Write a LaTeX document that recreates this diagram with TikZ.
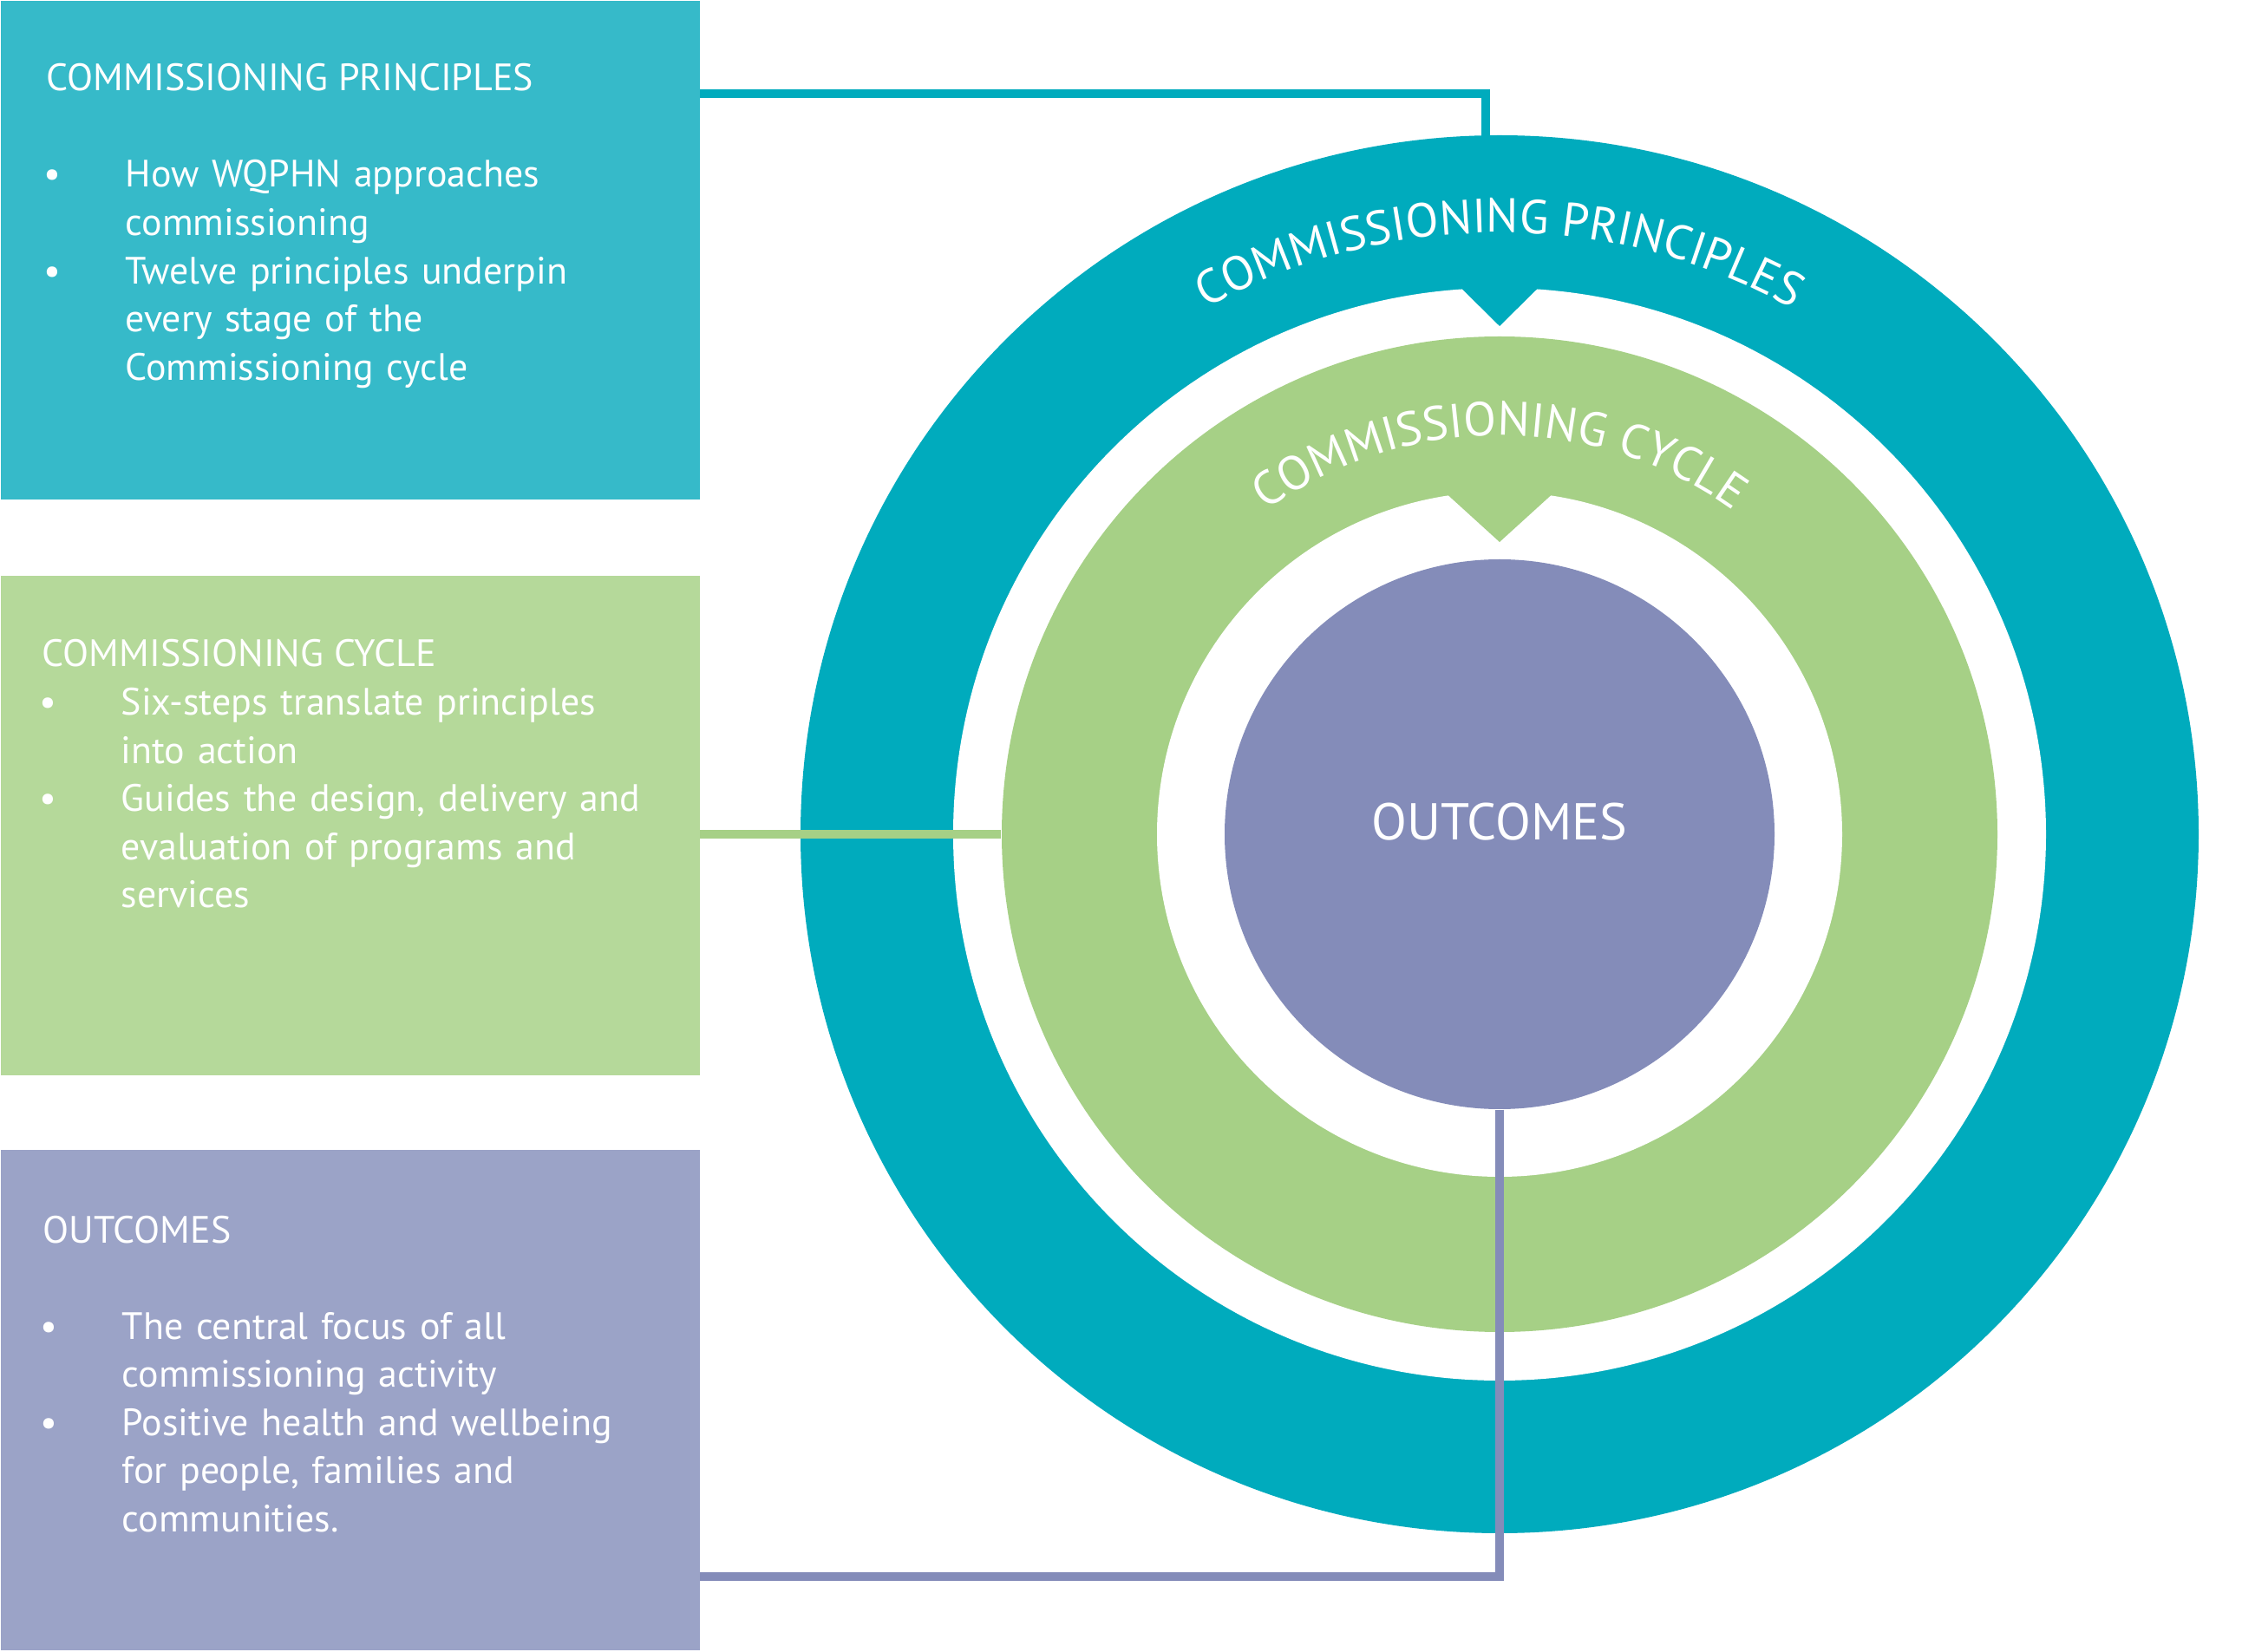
\documentclass[tikz,border=0pt]{standalone}
\usepackage{fontspec}
\setmainfont{PT Sans}
\usepackage{xcolor}
\usetikzlibrary{positioning,decorations.text}

\definecolor{ringteal}{HTML}{00ABBD}
\definecolor{boxteal}{HTML}{36BAC9}
\definecolor{ringgreen}{HTML}{A6D086}
\definecolor{boxgreen}{HTML}{B5D99A}
\definecolor{ringpurple}{HTML}{848CB9}
\definecolor{boxpurple}{HTML}{9BA3C7}

\newcommand{\boxfont}{\fontsize{12.5}{15.8}\selectfont}
\newcommand{\arcfont}{\fontsize{15.7}{18}\selectfont}
\newcommand{\hubfont}{\fontsize{17}{20}\selectfont}
\newcommand{\bitem}[1]{\noindent\hangindent=0.91cm\hangafter=1\makebox[0.91cm][l]{\hspace*{-0.03cm}\textbullet}#1\par}

\begin{document}
\begin{tikzpicture}[
    panel/.style={rectangle, inner sep=0pt, minimum width=8.06cm},
    boxtext/.style={text=white, inner sep=0pt, font=\boxfont},
    boxlist/.style={boxtext, text width=7.5cm},
    ring/.style={circle, inner sep=0pt},
    joinline/.style={line width=0.1cm}
]
\useasboundingbox (0,0) rectangle (26,19.04);

% left panels
\node[panel, fill=boxteal, minimum height=5.75cm, anchor=north west] (prinbox) at (0,19.04) {};
\node[panel, fill=boxgreen, minimum height=5.76cm, anchor=north west] (cycbox) at (0,12.41) {};
\node[panel, fill=boxpurple, minimum height=5.77cm, anchor=south west] (outbox) at (0,0) {};

\node[boxtext, anchor=base west] (prinhead) at (0.53,17.99) {COMMISSIONING PRINCIPLES};
\node[boxlist, anchor=base west] (prinlist) at ([yshift=-1.11cm]prinhead.base west) {\raggedright
    \bitem{How WQPHN approaches\newline commissioning}
    \bitem{Twelve principles underpin\newline every stage of the\newline Commissioning cycle}};

\node[boxtext, anchor=base west] (cychead) at (0.48,11.35) {COMMISSIONING CYCLE};
\node[boxlist, anchor=base west] (cyclist) at ([yshift=-0.555cm]cychead.base west) {\raggedright
    \bitem{Six-steps translate principles\newline into action}
    \bitem{Guides the design, delivery and\newline evaluation of programs and\newline services}};

\node[boxtext, anchor=base west] (outhead) at (0.49,4.71) {OUTCOMES};
\node[boxlist, anchor=base west] (outlist) at ([yshift=-1.11cm]outhead.base west) {\raggedright
    \bitem{The central focus of all\newline commissioning activity}
    \bitem{Positive health and wellbeing\newline for people, families and\newline communities.}};

% rings
\coordinate (hub) at (17.29,9.42);
\node[ring, fill=ringteal, minimum size=16.12cm] (prinring) at (hub) {};
\node[ring, fill=white, minimum size=12.60cm] (pringap) at (hub) {};
\fill[ringteal] ([shift={(-0.506,6.36)}]hub) -- ([shift={(0.506,6.36)}]hub) -- ([shift={(0,5.86)}]hub) -- cycle;
\node[ring, fill=ringgreen, minimum size=11.48cm] (cycring) at (hub) {};
\node[ring, fill=white, minimum size=7.90cm] (cycgap) at (hub) {};
\fill[ringgreen] ([shift={(-0.693,4.0)}]hub) -- ([shift={(0.693,4.0)}]hub) -- ([shift={(0,3.37)}]hub) -- cycle;
\node[ring, fill=ringpurple, minimum size=6.34cm] (outcome) at (hub) {};
\node[text=white, font=\hubfont, inner sep=0pt] (outlabel) at ([yshift=0.14cm]outcome.center) {OUTCOMES};

% curved titles
\path[decorate, decoration={text along path, text align=center, text color=white,
    text={|\arcfont|COMMISSIONING PRINCIPLES}}]
    ([shift={(180:6.94)}]hub) arc[start angle=180, end angle=0, radius=6.94];
\path[decorate, decoration={text along path, text align=center, text color=white,
    text={|\arcfont|COMMISSIONING CYCLE}}]
    ([shift={(180:4.60)}]hub) arc[start angle=180, end angle=0, radius=4.60];

% connectors
\draw[joinline, ringteal] ([yshift=-1.08cm]prinbox.north east) -| ([xshift=-0.16cm, yshift=-0.05cm]prinring.north);
\draw[joinline, ringgreen] (cycbox.east |- cycring.west) -- (cycring.west);
\draw[joinline, ringpurple] (outcome.south) |- ([yshift=0.86cm]outbox.south east);
\end{tikzpicture}
\end{document}
